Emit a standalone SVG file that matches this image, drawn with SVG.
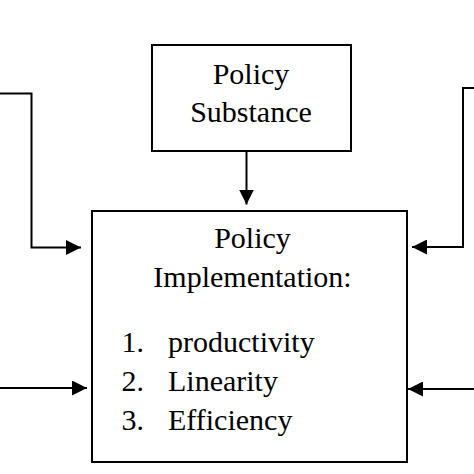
<svg xmlns="http://www.w3.org/2000/svg" width="474" height="474" viewBox="0 0 474 474">
<style>
.box{fill:#fff;stroke:#000;stroke-width:2}
.con{fill:none;stroke:#000;stroke-width:2}
</style>
<defs>
<marker id="ah" viewBox="0 0 15 15" markerWidth="15" markerHeight="15" markerUnits="userSpaceOnUse" refX="15" refY="7.5" orient="auto">
<path d="M0,0 L15,7.5 L0,15 z" fill="#000"/>
</marker>
</defs>
<rect width="474" height="474" fill="#fff"/>
<g id="connectors">
<path class="con" d="M0,93.5 H31.5 V247.5 H81" marker-end="url(#ah)"/>
<path class="con" d="M474,88 H463 V247 H412" marker-end="url(#ah)"/>
<path class="con" d="M0,388 H87" marker-end="url(#ah)"/>
<path class="con" d="M474,389 H408" marker-end="url(#ah)"/>
<path class="con" d="M246.5,151 V204.5" marker-end="url(#ah)"/>
</g>
<g id="policy-substance">
<rect class="box" x="152" y="45" width="199" height="106"/>
<g font-family="Liberation Serif, serif" font-size="30" fill="#000" text-anchor="middle">
<text x="251" y="83.5">Policy</text>
<text x="251" y="121.7">Substance</text>
</g>
</g>
<g id="policy-implementation">
<rect class="box" x="92" y="211" width="315" height="251"/>
<g font-family="Liberation Serif, serif" font-size="30" fill="#000">
<text x="252.5" y="248.3" text-anchor="middle">Policy</text>
<text x="252.5" y="286.7" text-anchor="middle">Implementation:</text>
<text x="121.5" y="351.7">1.</text>
<text x="168" y="351.7">productivity</text>
<text x="121.5" y="390.7">2.</text>
<text x="168" y="390.7">Linearity</text>
<text x="121.5" y="430">3.</text>
<text x="168" y="430">Efficiency</text>
</g>
</g>
</svg>
